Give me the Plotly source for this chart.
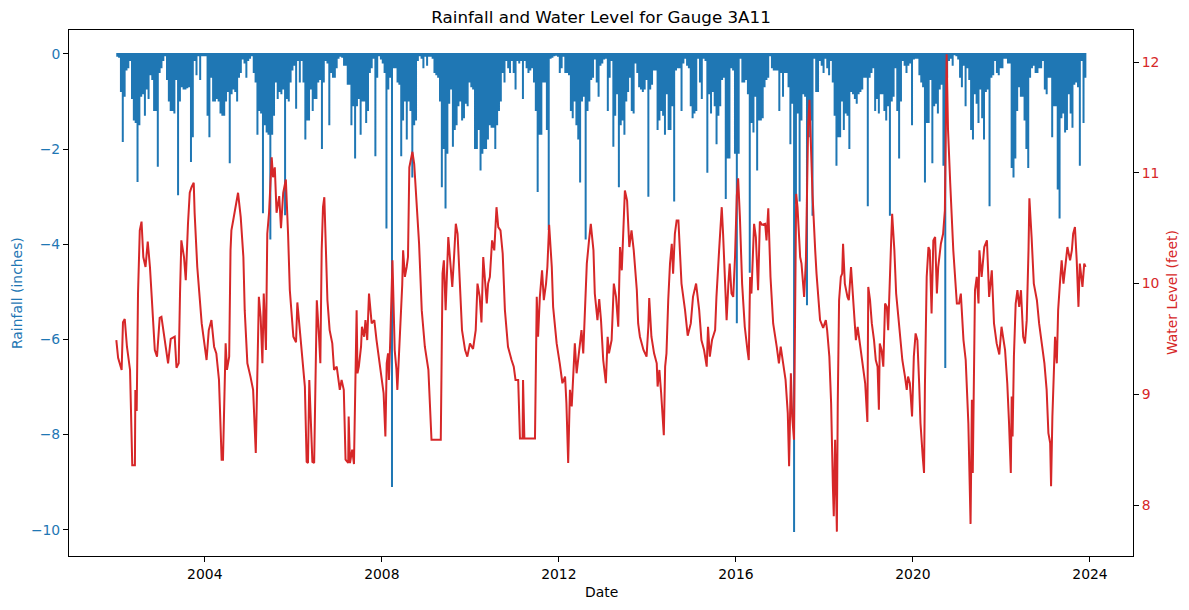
import numpy as np
import pandas as pd
import plotly.graph_objects as go

# ---------------- data ----------------
# Rainfall: half-month values (inches), 24 per year, Jan..Dec
rain_years = list(range(2002, 2024))
rain_2002 = [0.06,0.08,0.8,1.85,0.9,0.35,0.3,0.15,0.95,1.4,1.45,2.69,1.5,0.9,0.85,1.3,0.75,0.95,0.45,0.55,1.2,1.2,2.37,0.4]
rain_2003 = [0.3,0.15,0.05,0.55,1.0,1.2,1.2,1.25,0.55,2.97,1.0,0.7,0.75,0.75,0.72,0.7,2.27,1.75,0.15,0.45,0.05,0.55,0.05,0.05]
rain_2004 = [0.05,1.3,1.75,0.5,1.0,1.0,0.95,1.0,1.25,1.3,1.3,1.0,0.8,2.3,0.85,0.75,0.8,1.0,0.5,0.4,0.12,0.2,0.5,0.15]
rain_2005 = [0.1,0.05,0.4,0.6,1.7,1.2,1.25,3.35,1.5,1.65,1.7,3.9,1.7,1.3,0.6,0.95,0.8,0.85,0.75,3.39,0.95,1.0,0.6,0.35]
rain_2006 = [0.25,1.15,0.15,0.6,0.15,0.6,1.8,1.4,1.4,0.75,1.2,0.95,0.95,0.6,0.55,2.0,0.6,0.15,0.2,1.5,0.4,0.5,0.5,0.3]
rain_2007 = [0.1,0.06,0.08,0.25,0.25,0.65,0.65,1.5,1.1,2.2,1.1,0.95,1.7,1.0,1.0,1.45,1.2,0.4,0.3,0.1,2.15,0.5,0.05,0.12]
rain_2008 = [0.2,0.4,3.67,0.75,0.5,9.1,0.3,0.3,0.6,0.65,2.15,1.4,1.0,1.8,1.0,1.2,2.6,1.5,1.4,0.15,0.05,0.1,0.3,0.06]
rain_2009 = [0.25,0.06,0.06,0.1,0.4,0.45,0.5,1.0,2.8,2.0,3.25,2.1,1.05,0.75,1.95,1.6,1.5,1.1,1.0,1.4,1.35,1.05,1.1,0.6]
rain_2010 = [0.7,0.75,2.0,2.0,1.6,2.45,2.1,2.0,2.0,1.8,1.5,1.55,1.55,2.0,1.5,1.2,1.0,0.4,0.6,0.15,0.3,0.4,0.15,0.4]
rain_2011 = [0.75,0.15,0.2,0.15,0.95,0.15,0.3,0.4,0.35,0.3,0.6,1.2,2.9,1.7,1.7,0.6,0.6,1.6,3.7,0.1,0.08,0.05,0.04,0.06]
rain_2012 = [0.4,0.3,0.06,0.4,0.4,0.45,1.2,1.35,1.0,1.5,1.8,2.7,1.0,0.9,3.9,1.2,1.0,0.55,0.5,0.12,0.6,0.9,0.25,0.2]
rain_2013 = [0.12,0.1,1.2,0.5,0.15,1.95,1.3,0.85,2.8,1.5,1.4,1.7,1.0,0.8,0.5,1.2,1.25,0.2,0.4,0.7,0.75,0.8,0.75,0.55]
rain_2014 = [3.0,0.75,0.65,0.35,0.35,1.6,1.4,1.2,1.3,1.7,0.85,1.6,1.6,1.1,3.1,0.35,0.3,0.3,1.2,0.2,0.1,0.25,0.3,1.1]
rain_2015 = [1.35,1.25,1.2,0.1,0.6,0.95,0.1,0.15,2.5,0.85,1.25,0.8,1.1,1.9,1.3,1.1,0.55,0.5,3.05,2.2,2.2,0.3,0.35,2.1]
rain_2016 = [5.66,2.1,0.1,0.6,0.6,0.55,0.85,4.6,1.45,1.65,0.9,2.45,1.4,1.4,1.35,0.7,0.55,0.5,0.05,0.3,0.35,0.35,0.35,1.2]
rain_2017 = [0.4,0.9,0.4,0.4,0.7,1.9,1.05,10.05,3.15,1.25,3.1,1.4,0.85,0.9,5.28,1.75,1.4,3.4,0.1,0.8,0.8,0.15,0.25,0.4]
rain_2018 = [0.1,0.3,0.45,0.15,0.6,1.3,2.35,1.75,1.75,1.0,1.6,1.25,1.3,2.0,0.8,0.85,0.95,1.05,0.85,0.8,0.75,0.5,0.5,3.2]
rain_2019 = [0.5,0.4,0.3,1.2,0.95,1.25,0.85,0.85,1.2,1.4,1.1,3.4,1.0,0.9,0.3,1.2,2.2,1.0,0.15,0.25,0.4,0.25,0.2,1.5]
rain_2020 = [0.12,0.1,0.1,0.45,0.6,0.7,2.7,1.45,1.45,0.55,2.3,1.1,1.05,1.25,0.75,0.65,2.35,6.6,0.5,0.15,0.1,0.25,0.03,0.05]
rain_2021 = [0.12,0.5,0.7,0.25,1.1,0.3,0.55,1.6,1.8,0.85,1.05,1.45,0.75,1.35,1.8,0.8,0.75,3.2,0.5,0.45,0.15,0.4,0.45,0.3]
rain_2022 = [0.3,0.1,0.1,0.2,0.2,2.4,2.6,2.2,1.2,0.7,0.9,0.9,1.4,2.0,2.4,0.5,0.3,0.25,0.4,0.4,0.3,0.3,0.15,0.75]
rain_2023 = [0.85,0.5,0.5,1.75,1.1,1.1,2.85,3.46,1.35,1.25,1.65,1.6,0.85,1.25,1.55,0.65,0.6,0.7,2.35,0.15,1.45,0.5]
rain_by_year = [rain_2002, rain_2003, rain_2004, rain_2005, rain_2006, rain_2007,
                rain_2008, rain_2009, rain_2010, rain_2011, rain_2012, rain_2013,
                rain_2014, rain_2015, rain_2016, rain_2017, rain_2018, rain_2019,
                rain_2020, rain_2021, rain_2022, rain_2023]

# Water level: decimal-year dates and level in feet
level_year = [
 2002.00,2002.04,2002.12,2002.15,2002.19,2002.24,2002.31,2002.36,2002.42,2002.43,2002.46,2002.49,2002.53,2002.57,2002.61,2002.66,2002.71,2002.76,2002.80,2002.87,2002.92,2002.98,
 2003.02,2003.10,2003.17,2003.23,2003.32,2003.36,2003.41,2003.44,2003.47,2003.53,2003.57,2003.62,2003.66,2003.70,2003.75,2003.77,2003.83,2003.93,
 2004.04,2004.09,2004.15,2004.21,2004.26,2004.32,2004.38,2004.41,2004.45,2004.47,2004.50,2004.55,2004.58,2004.60,2004.64,2004.70,2004.75,2004.81,2004.87,2004.90,2004.96,
 2005.03,2005.09,2005.15,2005.18,2005.22,2005.26,2005.30,2005.33,2005.38,2005.41,2005.45,2005.51,2005.54,2005.58,2005.62,2005.68,2005.72,2005.77,2005.83,2005.88,2005.92,
 2006.00,2006.06,2006.09,2006.15,2006.20,2006.26,2006.30,2006.33,2006.36,2006.40,2006.43,2006.47,2006.50,2006.53,2006.58,2006.61,2006.64,2006.67,2006.70,2006.73,2006.77,2006.82,2006.88,2006.92,2006.98,
 2007.05,2007.09,2007.14,2007.18,2007.24,2007.25,2007.28,2007.33,2007.37,2007.41,2007.43,2007.45,2007.48,2007.53,2007.55,2007.60,2007.63,2007.67,2007.71,2007.77,2007.83,2007.88,2007.93,2007.99,
 2008.04,2008.08,2008.11,2008.14,2008.16,2008.19,2008.22,2008.24,2008.29,2008.33,2008.35,2008.38,2008.43,2008.46,2008.48,2008.52,2008.56,2008.59,2008.62,2008.66,2008.69,2008.73,2008.78,2008.84,2008.90,2008.97,
 2009.05,2009.08,2009.12,2009.33,2009.34,2009.37,2009.40,2009.44,2009.50,2009.55,2009.59,2009.63,2009.67,2009.71,2009.76,2009.81,2009.88,2009.93,2009.99,
 2010.06,2010.12,2010.16,2010.21,2010.25,2010.29,2010.33,2010.37,2010.40,2010.44,2010.49,2010.54,2010.59,2010.63,2010.68,2010.73,2010.78,2010.85,2010.93,2010.98,
 2011.02,2011.08,2011.12,2011.18,2011.19,2011.22,2011.46,2011.47,2011.50,2011.53,2011.57,2011.62,2011.66,2011.71,2011.74,2011.78,2011.84,2011.87,2011.95,
 2012.02,2012.08,2012.14,2012.17,2012.21,2012.25,2012.29,2012.32,2012.36,2012.40,2012.46,2012.51,2012.55,2012.59,2012.63,2012.68,2012.72,2012.78,2012.81,2012.87,2012.91,2012.95,
 2013.00,2013.06,2013.10,2013.13,2013.19,2013.24,2013.29,2013.34,2013.38,2013.42,2013.49,2013.54,2013.59,2013.64,2013.69,2013.76,2013.79,2013.83,2013.91,2013.98,
 2014.02,2014.04,2014.09,2014.15,2014.21,2014.23,2014.27,2014.31,2014.33,2014.37,2014.40,2014.43,2014.47,2014.51,2014.55,2014.58,2014.62,2014.66,2014.70,2014.73,2014.77,2014.85,2014.91,2014.98,
 2015.03,2015.10,2015.17,2015.22,2015.28,2015.34,2015.37,2015.41,2015.46,2015.53,2015.56,2015.62,2015.68,2015.71,2015.75,2015.79,2015.83,2015.86,2015.90,2015.94,2015.98,
 2016.02,2016.05,2016.09,2016.14,2016.20,2016.26,2016.29,2016.32,2016.35,2016.41,2016.45,2016.50,2016.54,2016.59,2016.66,2016.69,2016.73,2016.78,2016.84,2016.92,2016.97,
 2017.01,2017.07,2017.12,2017.17,2017.20,2017.24,2017.27,2017.31,2017.36,2017.39,2017.45,2017.48,2017.52,2017.54,2017.58,2017.63,2017.66,2017.69,2017.73,2017.79,2017.82,2017.90,2017.97,
 2018.03,2018.06,2018.11,2018.15,2018.19,2018.21,2018.24,2018.28,2018.30,2018.31,2018.33,2018.37,2018.40,2018.42,2018.46,2018.52,2018.55,2018.60,2018.65,2018.71,2018.75,2018.80,2018.86,2018.92,2018.97,2018.99,
 2019.03,2019.07,2019.12,2019.16,2019.20,2019.23,2019.25,2019.29,2019.33,2019.37,2019.41,2019.44,2019.50,2019.53,2019.58,2019.62,2019.67,2019.71,2019.76,2019.82,2019.86,2019.89,2019.93,2019.98,
 2020.02,2020.06,2020.10,2020.14,2020.17,2020.22,2020.25,2020.27,2020.31,2020.35,2020.38,2020.42,2020.46,2020.50,2020.54,2020.57,2020.63,2020.68,2020.72,2020.76,2020.79,2020.84,2020.91,2020.99,
 2021.04,2021.08,2021.14,2021.19,2021.25,2021.30,2021.33,2021.35,2021.38,2021.40,2021.44,2021.48,2021.50,2021.55,2021.61,2021.67,2021.72,2021.78,2021.83,2021.89,2021.95,
 2022.00,2022.08,2022.13,2022.17,2022.21,2022.23,2022.25,2022.28,2022.32,2022.36,2022.40,2022.44,2022.49,2022.53,2022.57,2022.61,2022.63,2022.68,2022.73,2022.80,2022.85,2022.91,2022.97,
 2023.02,2023.06,2023.10,2023.12,2023.15,2023.18,2023.21,2023.25,2023.28,2023.32,2023.36,2023.40,2023.44,2023.49,2023.55,2023.59,2023.62,2023.66,2023.70,2023.74,2023.77,2023.83,2023.87,2023.90]
level_ft = [
 9.49,9.33,9.22,9.65,9.68,9.43,9.22,8.36,8.36,9.04,8.85,9.91,10.48,10.56,10.24,10.15,10.38,10.15,9.88,9.40,9.34,9.69,
 9.70,9.46,9.28,9.50,9.52,9.24,9.28,9.91,10.39,10.24,10.03,10.54,10.82,10.87,10.91,10.64,10.15,9.64,
 9.31,9.58,9.67,9.43,9.37,9.13,8.41,8.41,9.07,9.46,9.22,9.34,10.30,10.48,10.57,10.71,10.82,10.60,10.24,9.76,9.28,
 9.16,9.04,8.47,9.16,9.88,9.70,9.28,9.91,9.40,10.45,10.64,11.14,10.96,11.05,10.64,10.79,10.50,10.82,10.94,10.45,9.94,
 9.52,9.47,9.83,9.58,9.34,9.07,8.39,8.38,9.13,8.74,8.39,8.38,9.10,9.85,9.52,9.28,10.30,10.69,10.78,10.30,9.85,9.58,9.46,9.22,9.25,
 9.04,9.13,9.04,8.41,8.38,8.80,8.38,8.50,8.37,9.13,9.76,9.19,9.25,9.43,9.61,9.52,9.67,9.49,9.91,9.64,9.67,9.49,9.34,9.16,
 9.01,8.62,9.28,9.37,9.13,9.49,9.91,10.21,9.40,9.22,9.04,9.28,9.64,9.99,10.30,10.06,10.15,10.24,11.05,11.14,11.19,11.08,10.76,10.36,9.76,9.43,
 9.22,8.92,8.59,8.59,9.07,10.09,10.21,9.76,10.42,10.15,9.97,10.24,10.54,10.45,9.97,9.58,9.40,9.34,9.46,
 9.41,9.58,10.00,9.88,9.65,10.24,10.06,9.82,10.00,10.06,10.39,10.30,10.69,10.51,10.48,10.27,9.76,9.43,9.31,9.25,
 9.13,9.13,8.60,8.60,9.13,8.60,8.60,8.85,9.88,9.52,9.88,10.12,9.85,10.00,10.15,10.53,10.15,9.79,9.46,
 9.28,9.10,9.16,8.92,8.38,9.04,8.89,9.10,9.46,9.19,9.40,9.58,9.37,9.82,10.18,10.39,10.54,10.30,9.91,9.67,9.86,9.67,
 9.31,9.10,9.52,9.37,9.49,10.00,9.88,9.61,10.33,10.12,10.84,10.75,10.33,10.48,10.30,9.94,9.64,9.52,9.40,9.34,
 9.61,9.87,9.52,9.37,9.28,9.07,9.22,9.01,8.85,8.63,9.25,9.37,9.85,10.18,10.36,10.09,10.45,10.57,10.57,10.27,10.00,9.76,9.53,9.64,
 9.88,10.00,9.76,9.49,9.40,9.25,9.61,9.34,9.49,9.58,9.88,10.30,10.69,10.45,10.06,9.67,10.00,10.18,9.91,9.88,10.24,
 10.79,10.95,10.60,10.00,9.61,9.40,9.31,10.06,9.91,10.54,10.42,9.94,10.56,10.53,10.54,10.39,10.68,10.06,9.64,9.43,9.28,
 9.43,9.28,9.13,8.83,8.35,9.19,8.80,8.59,10.81,10.69,10.24,10.18,10.00,9.88,10.21,11.42,11.66,11.20,10.80,10.30,10.09,9.67,9.60,
 9.67,9.58,9.34,8.92,8.17,7.90,8.59,7.76,8.92,9.28,9.85,10.06,10.09,10.36,10.00,9.88,9.85,10.15,9.82,9.49,9.61,9.46,9.25,9.10,8.75,9.97,
 9.85,9.64,9.49,9.31,9.25,8.86,9.46,9.40,9.25,9.82,9.79,9.58,10.30,10.63,10.30,9.91,9.70,9.52,9.31,9.16,9.04,9.16,9.10,8.80,
 9.34,9.55,9.49,9.10,8.74,8.44,8.29,9.07,10.06,10.33,10.30,9.73,10.39,10.42,9.91,10.15,10.36,10.45,10.66,12.07,11.40,10.91,10.30,9.82,
 9.82,9.91,9.49,9.31,8.74,7.83,8.95,8.29,9.25,9.94,10.06,9.82,10.30,10.06,10.33,10.39,9.88,10.12,9.64,9.46,9.36,
 9.61,9.40,9.10,8.74,8.29,8.98,8.62,9.34,9.82,9.94,9.79,9.94,9.52,9.46,9.67,10.30,10.77,10.42,10.00,9.85,9.64,9.46,9.28,
 9.04,8.65,8.56,8.17,8.80,9.28,9.52,9.28,9.76,10.00,10.21,10.00,10.15,10.33,10.21,10.30,10.45,10.51,10.21,9.79,10.18,9.97,10.18,10.15]

x_tick_years = [2004, 2008, 2012, 2016, 2020, 2024]
rain_ticks = [-10, -8, -6, -4, -2, 0]
level_ticks = [8, 9, 10, 11, 12]

BLUE = "#1f77b4"
RED = "#d62728"


def to_dt(v):
    y = int(np.floor(v))
    start = pd.Timestamp(year=y, month=1, day=1)
    end = pd.Timestamp(year=y + 1, month=1, day=1)
    return start + (v - y) * (end - start)


# rainfall drawn as vertical strokes down from zero (like a daily line plot)
rx, ry = [], []
for yr, vals in zip(rain_years, rain_by_year):
    for k, v in enumerate(vals):
        t = to_dt(yr + (k + 0.5) / 24.0)
        rx += [t, t, t]
        ry += [0.0, -v, 0.0]

lx = [to_dt(v) for v in level_year]

fig = go.Figure()
fig.add_trace(go.Scatter(x=rx, y=ry, mode="lines", line=dict(color=BLUE, width=2),
                         name="Rainfall (inches)", yaxis="y", hoverinfo="skip"))
fig.add_trace(go.Scatter(x=lx, y=level_ft, mode="lines", line=dict(color=RED, width=2),
                         name="Water Level (feet)", yaxis="y2"))

FONT = "DejaVu Sans, Arial, sans-serif"
TICK = 13.9

fig.update_layout(
    width=1189, height=610,
    margin=dict(l=69, r=56, t=30, b=54),
    paper_bgcolor="white", plot_bgcolor="white",
    showlegend=False,
    font=dict(family=FONT, size=TICK, color="black"),
    title=dict(text="Rainfall and Water Level for Gauge 3A11", x=0.5055, xanchor="center",
               y=1 - 17 / 610, yanchor="middle", yref="container",
               font=dict(family=FONT, size=16.7, color="black")),
    xaxis=dict(range=[to_dt(2000.93), to_dt(2024.97)],
               tickvals=[to_dt(y) for y in x_tick_years],
               ticktext=[str(y) for y in x_tick_years],
               ticks="outside", ticklen=5, tickwidth=1, tickcolor="black",
               showline=True, linecolor="black", linewidth=1, mirror=True,
               showgrid=False, zeroline=False,
               tickfont=dict(family=FONT, size=TICK, color="black")),
    yaxis=dict(range=[-10.5525, 0.5025], tickvals=rain_ticks,
               ticks="outside", ticklen=5, tickwidth=1, tickcolor="black",
               showline=True, linecolor="black", linewidth=1,
               showgrid=False, zeroline=False,
               tickfont=dict(family=FONT, size=TICK, color=BLUE)),
    yaxis2=dict(range=[7.54, 12.29], tickvals=level_ticks, overlaying="y", side="right",
                ticks="outside", ticklen=5, tickwidth=1, tickcolor="black",
                showline=True, linecolor="black", linewidth=1,
                showgrid=False, zeroline=False,
                tickfont=dict(family=FONT, size=TICK, color=RED)),
    annotations=[
        dict(text="Date", xref="paper", yref="paper", x=0.5, y=-36 / 526,
             xanchor="center", yanchor="middle", showarrow=False,
             font=dict(family=FONT, size=TICK, color="black")),
        dict(text="Rainfall (inches)", xref="paper", yref="paper", x=(17 - 69) / 1064, y=0.5,
             xanchor="center", yanchor="middle", textangle=-90, showarrow=False,
             font=dict(family=FONT, size=TICK, color=BLUE)),
        dict(text="Water Level (feet)", xref="paper", yref="paper", x=(1172 - 69) / 1064, y=0.5,
             xanchor="center", yanchor="middle", textangle=-90, showarrow=False,
             font=dict(family=FONT, size=TICK, color=RED)),
    ],
)

fig.write_html("out.html")
